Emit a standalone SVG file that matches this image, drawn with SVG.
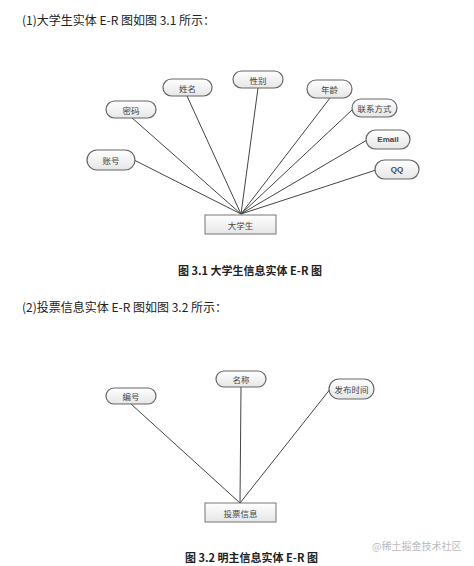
<svg xmlns="http://www.w3.org/2000/svg" width="474" height="566" viewBox="0 0 474 566">
<defs>
<linearGradient id="g" x1="0" y1="0" x2="0" y2="1">
<stop offset="0" stop-color="#ffffff"/>
<stop offset="1" stop-color="#e6e6e6"/>
</linearGradient>
<style>
.attr rect{fill:url(#g);stroke:#666;stroke-width:1.2}
.ent rect{fill:url(#g);stroke:#777;stroke-width:1}
.lbl{font-family:"Noto Sans CJK SC","Liberation Serif",serif;font-size:8.5px;fill:#444;text-anchor:middle;dominant-baseline:central}
.lblb{font-family:"Liberation Sans","Noto Sans CJK SC",sans-serif;font-size:8px;font-weight:bold;fill:#444;text-anchor:middle;dominant-baseline:central}
.title{font-family:"Noto Sans CJK SC","Liberation Sans",sans-serif;font-size:12px;fill:#222}
.cap{font-family:"Noto Sans CJK SC","Liberation Sans",sans-serif;font-size:11px;fill:#222;font-weight:bold}
.wm{font-family:"Noto Sans CJK SC",sans-serif;font-size:10px;fill:#bbb}
#connectors line{stroke:#444;stroke-width:1}
</style>
</defs>
<rect width="474" height="566" fill="#fff"/>
<text class="title" x="22" y="25">(1)大学生实体 E-R 图如图 3.1 所示：</text>
<text class="title" x="22" y="312">(2)投票信息实体 E-R 图如图 3.2 所示：</text>
<g id="connectors">
<line x1="134" y1="160" x2="241" y2="214"/>
<line x1="131" y1="117" x2="241" y2="214"/>
<line x1="187" y1="96" x2="241" y2="214"/>
<line x1="258" y1="88" x2="241" y2="214"/>
<line x1="330" y1="98" x2="241" y2="214"/>
<line x1="352" y1="110" x2="241" y2="214"/>
<line x1="367" y1="140" x2="241" y2="214"/>
<line x1="376" y1="170" x2="241" y2="214"/>
<line x1="131" y1="404" x2="240" y2="503"/>
<line x1="241" y1="387" x2="240" y2="503"/>
<line x1="331" y1="388" x2="240" y2="503"/>
</g>
<g id="n-zhanghao" class="attr"><rect x="87" y="150" width="48" height="20" rx="10"/><text class="lbl" x="111" y="160">账号</text></g>
<g id="n-mima" class="attr"><rect x="106" y="101" width="50" height="17" rx="8.5"/><text class="lbl" x="131" y="109.5">密码</text></g>
<g id="n-xingming" class="attr"><rect x="163" y="79" width="49" height="17" rx="8.5"/><text class="lbl" x="187.5" y="87.5">姓名</text></g>
<g id="n-xingbie" class="attr"><rect x="233" y="71" width="50" height="17" rx="8.5"/><text class="lbl" x="258" y="79.5">性别</text></g>
<g id="n-nianling" class="attr"><rect x="307" y="80" width="45" height="18" rx="9"/><text class="lbl" x="329.5" y="89">年龄</text></g>
<g id="n-lianxi" class="attr"><rect x="352" y="99" width="45" height="18" rx="9"/><text class="lbl" x="374.5" y="108">联系方式</text></g>
<g id="n-email" class="attr"><rect x="366" y="130" width="44" height="19" rx="9.5"/><text class="lblb" x="388" y="139.5">Email</text></g>
<g id="n-qq" class="attr"><rect x="375" y="160" width="44" height="19" rx="9.5"/><text class="lblb" x="397" y="169.5">QQ</text></g>
<g id="n-daxuesheng" class="ent"><rect x="205" y="215" width="71" height="19"/><text class="lbl" x="240.5" y="224.5">大学生</text></g>
<text class="cap" x="178" y="275">图 3.1 大学生信息实体 E-R 图</text>
<g id="n-bianhao" class="attr"><rect x="106" y="388" width="50" height="16" rx="8"/><text class="lbl" x="131" y="396">编号</text></g>
<g id="n-mingcheng" class="attr"><rect x="216" y="371" width="50" height="16" rx="8"/><text class="lbl" x="241" y="379">名称</text></g>
<g id="n-fabu" class="attr"><rect x="329" y="379" width="45" height="20" rx="10"/><text class="lbl" x="351.5" y="389">发布时间</text></g>
<g id="n-toupiao" class="ent"><rect x="205" y="503" width="71" height="19"/><text class="lbl" x="240.5" y="512.5">投票信息</text></g>
<text class="cap" x="185" y="562">图 3.2 明主信息实体 E-R 图</text>
<text class="wm" x="372" y="550">@稀土掘金技术社区</text>
</svg>
